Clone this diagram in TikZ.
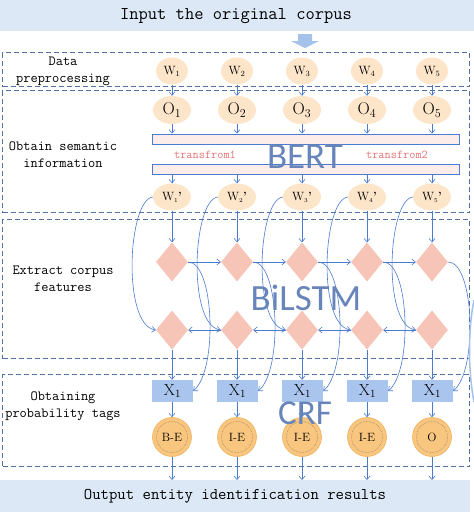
\documentclass[tikz,border=0pt]{standalone}
\usepackage{fontspec}
\newfontfamily\carl{Carlito}
\usetikzlibrary{shapes.geometric,arrows.meta}
\definecolor{arrowblue}{HTML}{4A7BD0}
\definecolor{dashcol}{HTML}{5271A3}
\definecolor{peach}{HTML}{FDE5C9}
\definecolor{diacol}{HTML}{F7C4B8}
\definecolor{xcol}{HTML}{A9C5EE}
\definecolor{circfill}{HTML}{F8C67E}
\definecolor{circline}{HTML}{EFB25E}
\definecolor{dotcol}{HTML}{8F7458}
\definecolor{bannercol}{HTML}{DCE8F6}
\definecolor{bigtext}{HTML}{6885BB}
\definecolor{redtext}{HTML}{E57373}
\definecolor{barfill}{HTML}{FCEDEA}
\definecolor{blockarrow}{HTML}{A4C2EA}
\begin{document}
\begin{tikzpicture}[x=1pt,y=-1pt,
  arr/.style={draw=arrowblue, line width=0.6pt, -{Straight Barb[length=3.5pt,width=6pt]}},
  curv/.style={draw=arrowblue, line width=0.6pt, -{Straight Barb[length=3.5pt,width=6pt]}},
  stage/.style={draw=dashcol, dash pattern=on 5pt off 3pt, line width=1.1pt, inner sep=0pt, anchor=north west},
  lbl/.style={font=\ttfamily\fontsize{14}{17}\selectfont, align=center, text=black},
  banner/.style={fill=bannercol, inner sep=0pt, anchor=north west},
  wn/.style={ellipse, fill=peach, minimum width=32pt, minimum height=27pt, inner sep=0pt, font=\fontsize{12}{12}\selectfont},
  on/.style={ellipse, fill=peach, minimum width=38pt, minimum height=28pt, inner sep=0pt, font=\fontsize{17}{17}\selectfont},
  wpn/.style={ellipse, fill=peach, minimum width=38pt, minimum height=27pt, inner sep=0pt, font=\fontsize{12}{12}\selectfont},
  bar/.style={draw=arrowblue, fill=barfill, line width=0.9pt, minimum width=307pt, minimum height=10pt, inner sep=0pt},
  dia/.style={diamond, fill=diacol, minimum width=32pt, minimum height=39pt, inner sep=0pt},
  xn/.style={fill=xcol, minimum width=41pt, minimum height=22pt, inner sep=0pt, font=\fontsize{16}{16}\selectfont},
  cn/.style={circle, fill=circfill, draw=circline, line width=0.6pt, minimum size=39pt, inner sep=0pt, font=\fontsize{12}{12}\selectfont},
  big/.style={font=\carl\fontsize{37}{37}\selectfont, text=bigtext, inner sep=0pt},
  red/.style={font=\ttfamily\fontsize{12}{12}\selectfont, text=redtext, inner sep=0pt}
]
\useasboundingbox (0,0) rectangle (474,512);
% banners
\node[banner, minimum width=474pt, minimum height=31pt] (inb) at (0,0) {};
\node[font=\ttfamily\fontsize{18}{20}\selectfont] (intext) at (236,16) {Input the original corpus};
\node[banner, minimum width=470pt, minimum height=32pt] (outb) at (0,480) {};
\node[font=\ttfamily\fontsize{16.3}{20}\selectfont] (outtext) at (235,496) {Output entity identification results};
% block arrow
\fill[blockarrow] (298,34) -- (312,34) -- (312,41) -- (319,41) -- (305,48) -- (291,41) -- (298,41) -- cycle;
% stage boxes
\node[stage, minimum width=467pt, minimum height=34pt] (s1) at (2,52) {};
\node[stage, minimum width=467pt, minimum height=122pt] (s2) at (2,90) {};
\node[stage, minimum width=467pt, minimum height=139pt] (s3) at (2,219) {};
\node[stage, minimum width=467pt, minimum height=92pt] (s4) at (2,374) {};
% stage labels
\node[lbl] (l1) at (63,71) {Data\\preprocessing};
\node[lbl] (l2) at (63,155) {Obtain semantic\\information};
\node[lbl] (l3) at (63,279) {Extract corpus\\features};
\node[lbl] (l4) at (63,406) {Obtaining\\probability tags};
% BERT bars
\node[bar] (bar1) at (305.5,139) {};
\node[bar] (bar2) at (305.5,169.5) {};
\node[red] (t1) at (205,155) {transfrom1};
\node[red] (t2) at (397,155) {transfrom2};
% columns
\foreach \i/\c/\tag in {1/172/B-E,2/237/I-E,3/302/I-E,4/367/I-E,5/432/O}{
  \node[wn] (w\i) at (\c,71) {W$_{\i}$};
  \node[on] (o\i) at (\c,110) {O$_{\i}$};
  \node[wpn] (wp\i) at (\c,197) {W$_{\scriptscriptstyle\i}$\textbf{\char"2019}};
  \node[dia] (dt\i) at (\c,262) {};
  \node[dia] (db\i) at (\c,330) {};
  \node[xn] (x\i) at (\c+0.5,391) {X$_1$};
  \node[cn] (c\i) at (\c,437) {\tag};
  \draw[dotcol, densely dotted, line width=0.5pt] (c\i.center) circle (15.5);
}
% vertical arrows
\foreach \i in {1,...,5}{
  \draw[arr] (w\i) -- (o\i);
  \draw[arr] (o\i.south) -- (o\i.south |- bar1.north);
  \draw[arr] (bar2.south -| wp\i) -- (wp\i.north);
  \draw[arr] (wp\i) -- (dt\i);
  \draw[arr] (db\i) -- (x\i.north -| db\i);
  \draw[arr] (x\i.south -| c\i) -- (c\i);
  \draw[arr] (c\i) -- (c\i |- outb.north);
  % curves
  \draw[curv] (wp\i.west) .. controls +(-25,3) and +(-34,-5) .. (db\i.west);
  \draw[curv] (dt\i.east) .. controls +(26,0) and +(25,-21) .. (x\i.east);
}
% horizontal arrows
\foreach \i/\j in {1/2,2/3,3/4,4/5}{
  \draw[arr] (dt\i.east) -- (dt\j.west);
  \draw[arr] (db\j.west) -- (db\i.east);
}
% right edge fragment
\draw[blockarrow, line width=1.5pt] (474,300) .. controls (468,330) and (468,370) .. (474,402);
% big labels
\node[big] (bert) at (305,157) {BERT};
\node[big] (bilstm) at (306,298) {BiLSTM};
\node[big, font=\carl\fontsize{35}{35}\selectfont] (crf) at (305,413) {CRF};
\end{tikzpicture}
\end{document}
